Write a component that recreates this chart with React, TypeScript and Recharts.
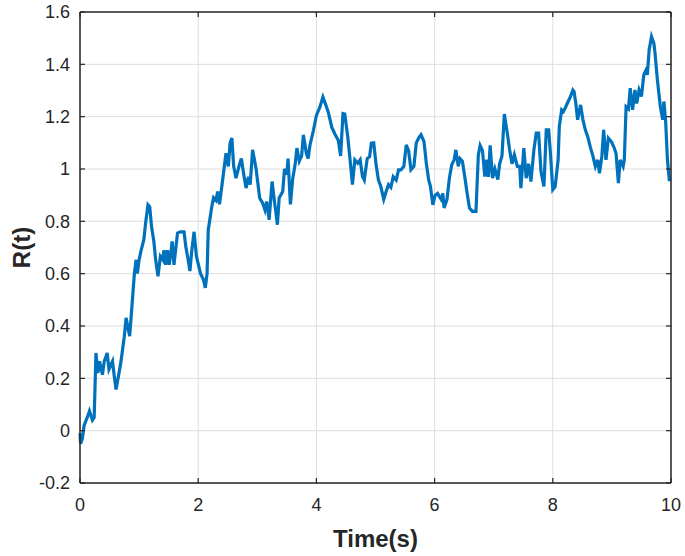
import { CartesianGrid, Line, LineChart, XAxis, YAxis } from "recharts";

// 시간(s)
const TIME = [
  0.0, 0.01, 0.04, 0.07, 0.13, 0.16, 0.21, 0.24, 0.27, 0.3, 0.33, 0.38, 0.41, 0.46, 0.49, 0.55, 0.58, 0.61,
  0.665, 0.69, 0.75, 0.78, 0.84, 0.86, 0.92, 0.95, 0.97, 1.0, 1.03, 1.08, 1.11, 1.15, 1.18, 1.21, 1.25, 1.28,
  1.32, 1.36, 1.4, 1.42, 1.45, 1.48, 1.51, 1.54, 1.56, 1.59, 1.65, 1.7, 1.76, 1.79, 1.83, 1.86, 1.89, 1.93,
  1.97, 2.04, 2.09, 2.12, 2.15, 2.17, 2.23, 2.26, 2.3, 2.33, 2.36, 2.41, 2.47, 2.51, 2.54, 2.57, 2.6, 2.64,
  2.69, 2.73, 2.77, 2.81, 2.85, 2.88, 2.92, 2.98, 3.04, 3.09, 3.13, 3.16, 3.2, 3.25, 3.29, 3.31, 3.34, 3.37,
  3.43, 3.46, 3.5, 3.52, 3.56, 3.6, 3.64, 3.67, 3.71, 3.75, 3.78, 3.83, 3.86, 3.89, 3.95, 4.0, 4.06, 4.11,
  4.16, 4.2, 4.26, 4.31, 4.37, 4.41, 4.45, 4.48, 4.53, 4.57, 4.61, 4.65, 4.7, 4.74, 4.78, 4.81, 4.86, 4.9,
  4.93, 4.97, 5.01, 5.05, 5.09, 5.14, 5.18, 5.22, 5.26, 5.3, 5.35, 5.39, 5.43, 5.48, 5.52, 5.56, 5.6, 5.65,
  5.69, 5.73, 5.77, 5.82, 5.86, 5.9, 5.93, 5.97, 6.01, 6.05, 6.11, 6.14, 6.16, 6.21, 6.25, 6.29, 6.33, 6.36,
  6.4, 6.43, 6.47, 6.51, 6.55, 6.59, 6.64, 6.7, 6.74, 6.77, 6.81, 6.85, 6.87, 6.91, 6.94, 6.98, 7.02, 7.07,
  7.1, 7.14, 7.18, 7.23, 7.27, 7.31, 7.35, 7.4, 7.44, 7.46, 7.51, 7.55, 7.59, 7.63, 7.68, 7.72, 7.76, 7.8,
  7.85, 7.89, 7.93, 7.96, 8.0, 8.04, 8.09, 8.11, 8.15, 8.18, 8.22, 8.26, 8.3, 8.34, 8.36, 8.39, 8.42, 8.47,
  8.51, 8.55, 8.59, 8.64, 8.68, 8.72, 8.76, 8.79, 8.83, 8.86, 8.9, 8.94, 8.99, 9.03, 9.07, 9.11, 9.14, 9.19,
  9.21, 9.24, 9.28, 9.31, 9.35, 9.39, 9.42, 9.46, 9.5, 9.54, 9.58, 9.6, 9.63, 9.67, 9.71, 9.73, 9.77, 9.82,
  9.86, 9.88, 9.91, 9.94, 9.97, 10.0,
];

// R(t)
const R_VALUES = [
  -0.01, -0.05, -0.03, 0.02, 0.055, 0.075, 0.04, 0.05, 0.297, 0.22, 0.265, 0.214, 0.265, 0.297, 0.234, 0.265, 0.208, 0.157,
  0.227, 0.259, 0.361, 0.431, 0.361, 0.42, 0.6, 0.653, 0.6, 0.653, 0.685, 0.73, 0.793, 0.863, 0.855, 0.78, 0.723, 0.653,
  0.59, 0.666, 0.653, 0.69, 0.634, 0.69, 0.634, 0.685, 0.723, 0.634, 0.755, 0.76, 0.76, 0.704, 0.653, 0.61, 0.685, 0.76,
  0.666, 0.6, 0.577, 0.546, 0.6, 0.767, 0.857, 0.89, 0.88, 0.914, 0.865, 0.952, 1.06, 1.01, 1.1, 1.118, 1.01, 0.965,
  1.01, 1.04, 0.98, 0.927, 0.97, 0.94, 1.073, 1.0, 0.889, 0.87, 0.843, 0.876, 0.806, 0.952, 0.876, 0.843, 0.787, 0.889,
  0.914, 1.0, 0.98, 1.04, 0.865, 0.965, 1.017, 1.08, 1.03, 1.05, 1.13, 1.06, 1.04, 1.09, 1.148, 1.205, 1.237, 1.275,
  1.244, 1.218, 1.16, 1.135, 1.11, 1.05, 1.212, 1.21, 1.124, 1.035, 0.94, 1.035, 1.022, 1.035, 0.971, 0.958, 1.04, 1.047,
  1.099, 1.1, 1.016, 0.958, 0.933, 0.884, 0.914, 0.94, 0.93, 0.971, 0.958, 0.997, 0.997, 1.01, 1.092, 1.07, 0.997, 1.01,
  1.1, 1.118, 1.131, 1.105, 1.022, 0.958, 0.933, 0.863, 0.9, 0.907, 0.884, 0.907, 0.851, 0.884, 0.965, 1.016, 1.035, 1.073,
  1.01, 1.04, 1.03, 0.971, 0.907, 0.851, 0.838, 0.838, 1.054, 1.09, 1.07, 0.971, 1.035, 0.97, 1.09, 0.965, 1.0, 0.96,
  1.02, 1.05, 1.21, 1.137, 1.073, 1.02, 1.054, 1.01, 1.01, 0.927, 1.08, 0.965, 1.02, 0.952, 1.073, 1.137, 1.137, 0.99,
  0.933, 1.15, 1.15, 1.06, 0.921, 0.933, 1.035, 1.162, 1.226, 1.22, 1.238, 1.258, 1.277, 1.302, 1.296, 1.25, 1.188, 1.245,
  1.188, 1.15, 1.124, 1.08, 1.048, 1.01, 1.035, 0.984, 1.048, 1.15, 1.035, 1.118, 1.105, 1.086, 1.06, 0.946, 1.035, 1.01,
  1.035, 1.238, 1.23, 1.309, 1.226, 1.302, 1.25, 1.302, 1.277, 1.36, 1.379, 1.36, 1.455, 1.506, 1.48, 1.442, 1.34, 1.238,
  1.188, 1.258, 1.18, 1.035, 0.959, 0.959,
];

const X_TICKS = [0, 2, 4, 6, 8, 10];
const Y_TICKS = [-0.2, 0, 0.2, 0.4, 0.6, 0.8, 1, 1.2, 1.4, 1.6];

const AXIS_COLOR = "#262626";
const FONT = "Liberation Sans, Arial, sans-serif";
const TICK_FONT = { fontSize: 18, fill: "#262626", fontFamily: FONT };
const AXIS_LINE = { stroke: AXIS_COLOR, strokeWidth: 1.5 };
const TICK_LINE = { stroke: AXIS_COLOR, strokeWidth: 1.2 };

const data = TIME.map((t, i) => ({ t, r: R_VALUES[i] }));

function YLabel(props: any) {
  const vb = props.viewBox || { x: 0, y: 0, width: 0, height: 0 };
  const cx = 21;
  const cy = vb.y + vb.height / 2;
  return (
    <text
      x={cx}
      y={cy}
      transform={`rotate(-90, ${cx}, ${cy})`}
      textAnchor="middle"
      dominantBaseline="central"
      style={{ fontSize: 24, fontWeight: 700, fill: "#262626", fontFamily: FONT }}
    >
      R(t)
    </text>
  );
}

function XLabel(props: any) {
  const vb = props.viewBox || { x: 0, y: 0, width: 0, height: 0 };
  return (
    <text
      x={vb.x + vb.width / 2}
      y={547}
      textAnchor="middle"
      style={{ fontSize: 24, fontWeight: 700, fill: "#262626", fontFamily: FONT }}
    >
      Time(s)
    </text>
  );
}

const NoTick = () => <g />;

export default function App() {
  return (
    <div style={{ position: "absolute", left: 0, top: 0, width: 685, height: 556, background: "#fff" }}>
      <LineChart width={685} height={556} data={data} margin={{ top: 11, right: 0, bottom: 0, left: 0 }}>
        <CartesianGrid stroke="#dedede" strokeWidth={1} />
        <XAxis
          dataKey="t"
          type="number"
          domain={[0, 10]}
          ticks={X_TICKS}
          height={73}
          tickSize={-5}
          tickMargin={20}
          axisLine={AXIS_LINE}
          tickLine={TICK_LINE}
          tick={TICK_FONT}
          label={<XLabel />}
        />
        <XAxis
          xAxisId="top"
          orientation="top"
          dataKey="t"
          type="number"
          domain={[0, 10]}
          ticks={X_TICKS}
          height={1}
          tickSize={-5}
          tick={NoTick}
          axisLine={AXIS_LINE}
          tickLine={TICK_LINE}
        />
        <YAxis
          type="number"
          domain={[-0.2, 1.6]}
          ticks={Y_TICKS}
          width={80}
          tickSize={-5}
          tickMargin={15}
          axisLine={AXIS_LINE}
          tickLine={TICK_LINE}
          tick={TICK_FONT}
          tickFormatter={(v: number) => String(Math.round(v * 10) / 10)}
          label={<YLabel />}
        />
        <YAxis
          yAxisId="right"
          orientation="right"
          type="number"
          domain={[-0.2, 1.6]}
          ticks={Y_TICKS}
          width={14}
          tickSize={-5}
          tick={NoTick}
          axisLine={AXIS_LINE}
          tickLine={TICK_LINE}
        />
        <Line
          dataKey="r"
          type="linear"
          stroke="#0072BD"
          strokeWidth={3.2}
          dot={false}
          isAnimationActive={false}
        />
        <Line
          xAxisId="top"
          yAxisId="right"
          dataKey="r"
          stroke="none"
          strokeWidth={0}
          dot={false}
          activeDot={false}
          legendType="none"
          isAnimationActive={false}
        />
      </LineChart>
    </div>
  );
}
